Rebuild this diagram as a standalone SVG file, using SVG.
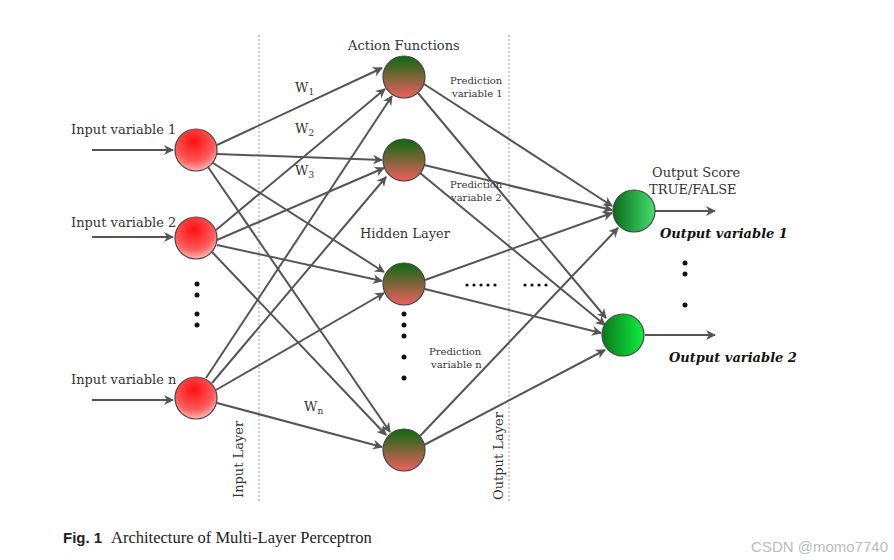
<svg xmlns="http://www.w3.org/2000/svg" width="894" height="560" viewBox="0 0 894 560">
<style>
.t{font-family:"DejaVu Serif","Liberation Serif",serif;font-size:13px;fill:#333}
.s{font-family:"DejaVu Serif","Liberation Serif",serif;font-size:10px;fill:#333}
.b{font-family:"DejaVu Serif",serif;font-size:13px;font-weight:bold;font-style:italic;fill:#111}
.c line{stroke:#555;stroke-width:2;marker-end:url(#a)}
.n{stroke:#444;stroke-width:1.2}
.dot{fill:#111}
</style>
<defs>
<marker id="a" markerWidth="10" markerHeight="10" refX="9" refY="5" orient="auto" markerUnits="userSpaceOnUse"><path d="M0,0 L10,5 L0,10 L3,5 Z" fill="#555"/></marker>
<radialGradient id="red" cx="0.45" cy="0.3" r="0.8"><stop offset="0" stop-color="#ff1010"/><stop offset="0.6" stop-color="#ff5a5a"/><stop offset="1" stop-color="#ffe0e0"/></radialGradient>
<linearGradient id="hid" x1="0" y1="0" x2="0" y2="1"><stop offset="0" stop-color="#0a6a10"/><stop offset="1" stop-color="#ee5f5f"/></linearGradient>
<linearGradient id="out1" x1="0" y1="0" x2="1" y2="0"><stop offset="0" stop-color="#0a6a1a"/><stop offset="1" stop-color="#44e070"/></linearGradient>
<linearGradient id="out2" x1="0" y1="0" x2="1" y2="0"><stop offset="0" stop-color="#0a7a1a"/><stop offset="1" stop-color="#10ee40"/></linearGradient>
</defs>
<rect width="894" height="560" fill="#fff"/>
<g stroke="#999" stroke-width="1" stroke-dasharray="2,2"><line x1="259" y1="35" x2="259" y2="502"/><line x1="509" y1="35" x2="509" y2="502"/></g>
<g class="c" id="connectors">
<line x1="92" y1="150" x2="173" y2="150"/><line x1="92" y1="237" x2="173" y2="237"/><line x1="92" y1="400" x2="173" y2="400"/>
<line x1="217" y1="145" x2="382" y2="68"/><line x1="217" y1="154" x2="382" y2="160"/><line x1="213" y1="163" x2="384" y2="272"/><line x1="208" y1="167" x2="390" y2="432"/>
<line x1="216" y1="230" x2="385" y2="89"/><line x1="217" y1="240" x2="384" y2="168"/><line x1="217" y1="245" x2="382" y2="281"/><line x1="212" y1="252" x2="386" y2="435"/>
<line x1="206" y1="378" x2="392" y2="96"/><line x1="212" y1="383" x2="386" y2="177"/><line x1="216" y1="390" x2="384" y2="293"/><line x1="217" y1="403" x2="382" y2="447"/>
<line x1="424" y1="84" x2="612" y2="206"/><line x1="418" y1="93" x2="606" y2="318"/>
<line x1="424" y1="165" x2="612" y2="210"/><line x1="420" y1="173" x2="605" y2="325"/>
<line x1="425" y1="280" x2="612" y2="213"/><line x1="425" y1="289" x2="601" y2="333"/>
<line x1="420" y1="436" x2="618" y2="228"/><line x1="424" y1="445" x2="605" y2="350"/>
<line x1="655" y1="211" x2="715" y2="211"/><line x1="645" y1="335" x2="715" y2="335"/>
</g>
<g id="in1"><circle class="n" cx="196" cy="150" r="21" fill="url(#red)"/><text class="t" x="71" y="134">Input variable 1</text></g>
<g id="in2"><circle class="n" cx="196" cy="238" r="21" fill="url(#red)"/><text class="t" x="71" y="227">Input variable 2</text></g>
<g id="inn"><circle class="n" cx="196" cy="398" r="21" fill="url(#red)"/><text class="t" x="71" y="384">Input variable n</text></g>
<g id="h1"><circle class="n" cx="404" cy="77" r="21" fill="url(#hid)"/><text class="t" x="348" y="50">Action Functions</text></g>
<g id="h2"><circle class="n" cx="404" cy="160" r="21" fill="url(#hid)"/></g>
<g id="h3"><circle class="n" cx="404" cy="284" r="21" fill="url(#hid)"/></g>
<g id="h4"><circle class="n" cx="404" cy="450" r="21" fill="url(#hid)"/></g>
<g id="o1"><circle class="n" cx="634" cy="211" r="21" fill="url(#out1)"/><text class="t" x="652" y="177">Output Score</text><text class="t" x="649" y="194">TRUE/FALSE</text><text class="b" x="660" y="238">Output variable 1</text></g>
<g id="o2"><circle class="n" cx="623" cy="335" r="21" fill="url(#out2)"/><text class="b" x="669" y="362">Output variable 2</text></g>
<g id="labels">
<text class="t" x="295" y="92">W<tspan font-size="9" dy="3">1</tspan></text>
<text class="t" x="295" y="133">W<tspan font-size="9" dy="3">2</tspan></text>
<text class="t" x="295" y="175">W<tspan font-size="9" dy="3">3</tspan></text>
<text class="t" x="304" y="411">W<tspan font-size="9" dy="3">n</tspan></text>
<text class="t" x="360" y="238">Hidden Layer</text>
<text class="s" x="450" y="84">Prediction</text><text class="s" x="452" y="97">variable 1</text>
<text class="s" x="450" y="188">Prediction</text><text class="s" x="451" y="201">variable 2</text>
<text class="s" x="429" y="355">Prediction</text><text class="s" x="431" y="368">variable n</text>
<text class="t" transform="translate(243,498) rotate(-90)">Input Layer</text>
<text class="t" transform="translate(503,500) rotate(-90)">Output Layer</text>
</g>
<g class="dot">
<circle cx="197" cy="284" r="2.5"/><circle cx="197" cy="295" r="2.5"/><circle cx="197" cy="314" r="2.5"/><circle cx="197" cy="325" r="2.5"/>
<circle cx="404" cy="314" r="2.5"/><circle cx="404" cy="325" r="2.5"/><circle cx="404" cy="336" r="2.5"/><circle cx="404" cy="357" r="2.5"/><circle cx="404" cy="378" r="2.5"/>
<circle cx="467" cy="285" r="1.6"/><circle cx="474" cy="285" r="1.6"/><circle cx="481" cy="285" r="1.6"/><circle cx="488" cy="285" r="1.6"/><circle cx="495" cy="285" r="1.6"/>
<circle cx="525" cy="285" r="1.6"/><circle cx="532" cy="285" r="1.6"/><circle cx="539" cy="285" r="1.6"/><circle cx="546" cy="285" r="1.6"/>
<circle cx="685" cy="263" r="2.5"/><circle cx="685" cy="274" r="2.5"/><circle cx="685" cy="305" r="2.5"/>
</g>
<text x="63" y="543" font-family="Liberation Sans,sans-serif" font-size="15" font-weight="bold" fill="#222">Fig. 1</text>
<text x="111" y="543" font-family="Liberation Serif,serif" font-size="16.5" fill="#222">Architecture of Multi-Layer Perceptron</text>
<text x="888" y="552" text-anchor="end" font-family="Liberation Sans,sans-serif" font-size="15" fill="#bbb">CSDN @momo7740</text>
</svg>
